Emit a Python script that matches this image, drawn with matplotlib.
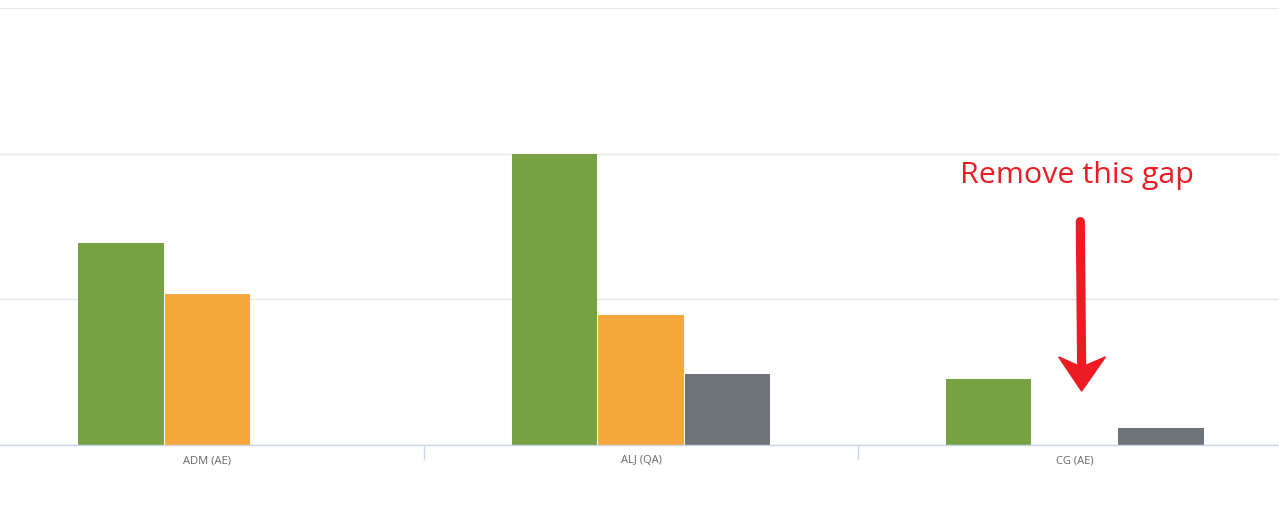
import numpy as np
import matplotlib
matplotlib.use("Agg")
import matplotlib.pyplot as plt
from matplotlib.patches import Polygon

plt.rcParams['font.family'] = ['Open Sans', 'DejaVu Sans']

categories = ['ADM (AE)', 'ALJ (QA)', 'CG (AE)']
# nan = no bar for that series in that category
series_green = [1.39, 2.00, 0.45]
series_orange = [1.04, 0.89, np.nan]
series_gray = [np.nan, 0.49, 0.12]
colors = ['#76a244', '#f5a83c', '#6e747a']

W, H = 1279, 516
fig = plt.figure(figsize=(W / 100, H / 100), dpi=100)
# plot area runs a little past the left/right image edges (cropped screenshot)
left_px, right_px, top_px, base_px = -9.5, 1291.5, 8, 445
ax = fig.add_axes([left_px / W, (H - base_px) / H,
                   (right_px - left_px) / W, (base_px - top_px) / H])

x = np.arange(len(categories))
bw = 0.199
for i, (vals, c) in enumerate(zip([series_green, series_orange, series_gray], colors)):
    ax.bar(x + (i - 1) * bw, vals, width=bw - 0.0025, color=c, zorder=3)

ax.set_xlim(-0.5, len(categories) - 0.5)
ax.set_ylim(0, 3)
ax.set_yticks([0, 1, 2, 3])
ax.yaxis.grid(True, color='#e6e6e6', lw=1)
ax.tick_params(axis='y', length=0, labelleft=False)
ax.set_xticks(x)
ax.set_xticklabels(categories, fontsize=8, color='#666666')
ax.tick_params(axis='x', which='major', length=0, pad=7.5)
ax.set_xticks(x[:-1] + 0.5, minor=True)
ax.tick_params(axis='x', which='minor', length=10, color='#ccd6eb', width=1)
for s in ['top', 'left', 'right']:
    ax.spines[s].set_visible(False)
ax.spines['bottom'].set_color('#ccd6eb')
ax.spines['bottom'].set_linewidth(1)
ax.spines['bottom'].set_zorder(4)

# annotation
red = '#ed1c24'
ax.text(2.005, 1.85, 'Remove this gap', color=red, fontsize=21.9, ha='center', va='center')
ax.plot([2.013, 2.016], [1.534, 0.56], color=red, lw=6.6, solid_capstyle='round', zorder=5)
head = Polygon([[2.016, 0.37], [1.963, 0.605], [2.016, 0.535], [2.071, 0.605]],
               closed=True, color=red, zorder=5)
ax.add_patch(head)

fig.savefig('out.png', dpi=100)
